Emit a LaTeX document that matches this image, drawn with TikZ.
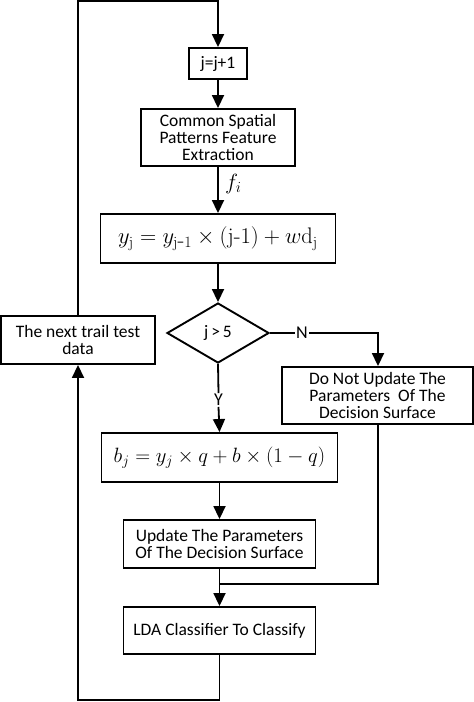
\RequirePackage{fix-cm}
\documentclass[tikz,border=0pt]{standalone}
\usepackage{fontspec}
\setsansfont{Carlito}
\usetikzlibrary{shapes.geometric,arrows.meta}
\begin{document}
\begin{tikzpicture}[x=1pt,y=-1pt,
  box/.style={draw,line width=1.9pt,rectangle,inner sep=2pt,align=center,font=\sffamily\fontsize{17.5}{17}\selectfont},
  mbox/.style={draw,line width=1.9pt,rectangle,inner sep=2pt},
  lbl/.style={font=\sffamily\fontsize{18}{18}\selectfont,inner sep=1pt,fill=white},
  conn/.style={line width=1.8pt},
  arr/.style={line width=1.8pt,-{Triangle[width=12pt,length=13pt]}}]
\useasboundingbox (0,0) rectangle (474,702);
\node[box,minimum width=58pt,minimum height=31pt] (j) at (218,63.5) {j=j+1};
\node[box,minimum width=154pt,minimum height=57pt] (csp) at (218,137.5) {Common Spatial\\Patterns Feature\\Extraction};
\node[mbox,minimum width=235pt,minimum height=49pt,font=\fontsize{22.5}{25}\selectfont] (yj) at (218,238.5) {$y_{\mathrm{j}}=y_{\mathrm{j\mbox{-}1}}\times(\mathrm{j\mbox{-}1})+w\mathrm{d}_{\mathrm{j}}$};
\node[draw,line width=1.9pt,diamond,minimum width=102pt,minimum height=60pt,inner sep=0pt,font=\sffamily\fontsize{17.5}{17}\selectfont] (d) at (218,333) {j\,>\,5};
\node[box,minimum width=154pt,minimum height=48pt] (next) at (78,340) {The next trail test\\data};
\node[box,minimum width=191pt,minimum height=57pt] (dn) at (377.5,395.5) {Do Not Update The\\Parameters\ \ Of The\\Decision Surface};
\node[mbox,minimum width=236pt,minimum height=49pt,font=\fontsize{20.7}{23}\selectfont] (bj) at (219.5,457.5) {$b_j=y_j\times q+b\times(1-q)$};
\node[box,minimum width=192pt,minimum height=48pt] (up) at (219.5,544) {Update The Parameters\\Of The Decision Surface};
\node[box,minimum width=192pt,minimum height=47pt] (lda) at (219.5,630.5) {LDA Classifier To Classify};
\node[font=\fontsize{22}{24}\selectfont,anchor=west,inner sep=0pt] (fi) at (225,184) {$f_i$};
\node[lbl] (N) at (302,333) {N};
\node[lbl] (Y) at (218.5,400) {Y};
\coordinate (m) at (219.5,584);
\coordinate (bl) at (219.5,700);
\coordinate (tl) at (78,1);
\coordinate (nr) at (378,333);
\coordinate (dr) at (378,584);
\draw[arr] (j) -- (csp);
\draw[arr] (csp) -- (yj);
\draw[arr] (yj) -- (d);
\draw[conn] (d.east) -- (N.west);
\draw[arr] (N.east) -- (nr) -- (dn.north -| nr);
\draw[conn] (d.south) -- (Y.north);
\draw[arr] (Y.south) -- (bj.north);
\draw[arr] (bj) -- (up);
\draw[arr] (up) -- (lda);
\draw[conn] (dn.south -| nr) -- (dr) -- (m);
\draw[arr] (lda.south) -- (bl) -| (next.south);
\draw[arr] (next.north) -- (tl) -| (j.north);
\end{tikzpicture}
\end{document}
